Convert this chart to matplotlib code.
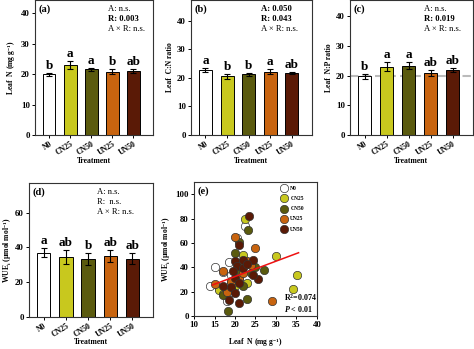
import matplotlib
matplotlib.use("Agg")
import matplotlib.pyplot as plt
import numpy as np

plt.rcParams['font.family'] = ['Liberation Serif', 'DejaVu Serif']
plt.rcParams['font.weight'] = 'bold'
plt.rcParams['mathtext.fontset'] = 'custom'
plt.rcParams['mathtext.rm'] = 'Liberation Serif:bold'
plt.rcParams['mathtext.it'] = 'Liberation Serif:italic:bold'
plt.rcParams['mathtext.bf'] = 'Liberation Serif:bold'

treatments = ['N0', 'CN25', 'CN50', 'UN25', 'UN50']
colors = ['#ffffff', '#c8c81e', '#5a5a0e', '#c8640f', '#5a1a06']

leafN = [20.0, 23.0, 21.5, 20.8, 21.1]
leafN_err = [0.5, 1.3, 0.5, 0.8, 0.6]
leafN_let = ['b', 'a', 'a', 'b', 'ab']

cn = [22.7, 20.5, 21.2, 22.2, 21.7]
cn_err = [0.6, 1.0, 0.6, 0.9, 0.5]
cn_let = ['a', 'b', 'b', 'a', 'ab']

np_ratio = [19.7, 23.0, 23.3, 21.0, 21.9]
np_err = [0.9, 1.5, 1.2, 1.0, 0.8]
np_let = ['b', 'a', 'a', 'ab', 'ab']

wue = [37.0, 34.5, 33.3, 35.0, 33.5]
wue_err = [2.5, 3.8, 3.3, 3.5, 3.0]
wue_let = ['a', 'ab', 'b', 'ab', 'ab']

stats_a = [('A: n.s.', 'normal'), ('R: 0.003', 'bold'), ('A × R: n.s.', 'normal')]
stats_b = [('A: 0.050', 'bold'), ('R: 0.043', 'bold'), ('A × R: n.s.', 'normal')]
stats_c = [('A: n.s.', 'normal'), ('R: 0.019', 'bold'), ('A × R: n.s.', 'normal')]
stats_d = [('A: n.s.', 'normal'), ('R:  n.s.', 'normal'), ('A × R: n.s.', 'normal')]

# scatter (leaf N, WUEi) per treatment
sc_N0_x = [14.0, 15.0, 18.5, 22.5, 20.5, 18.0, 21.0, 17.0, 19.0, 22.0, 16.0, 19.0]
sc_N0_y = [25.0, 40.5, 44.0, 74.0, 64.0, 12.0, 31.0, 36.0, 34.0, 45.0, 22.0, 20.0]
sc_CN25_x = [22.5, 30.0, 35.2, 34.2, 16.0, 22.0, 23.0, 17.0, 21.0, 19.0, 20.0]
sc_CN25_y = [80.0, 49.0, 34.0, 22.0, 21.0, 50.0, 27.0, 18.0, 42.0, 29.0, 25.0]
sc_CN50_x = [23.2, 21.0, 18.2, 23.0, 27.0, 20.0, 22.0, 17.0, 24.0, 19.0, 21.0, 25.0]
sc_CN50_y = [71.0, 61.0, 4.0, 14.0, 38.0, 52.0, 25.0, 17.0, 35.0, 22.0, 38.0, 40.0]
sc_UN25_x = [20.0, 25.0, 29.0, 17.0, 15.0, 23.0, 21.0, 19.0, 24.0, 18.0, 22.0]
sc_UN25_y = [65.0, 55.5, 12.0, 37.0, 26.0, 45.0, 30.0, 28.0, 42.0, 20.0, 35.0]
sc_UN50_x = [23.5, 21.0, 20.0, 22.0, 24.5, 20.5, 25.5, 24.5, 22.0, 20.0, 19.0, 20.0, 18.5, 21.0, 17.0, 21.0, 23.0, 19.5]
sc_UN50_y = [82.0, 58.0, 45.0, 46.0, 46.0, 41.0, 30.0, 34.0, 39.0, 31.0, 24.0, 19.0, 13.0, 11.0, 25.0, 27.0, 43.0, 37.0]
scatter_x = [sc_N0_x, sc_CN25_x, sc_CN50_x, sc_UN25_x, sc_UN50_x]
scatter_y = [sc_N0_y, sc_CN25_y, sc_CN50_y, sc_UN25_y, sc_UN50_y]

fit_range = [14.5, 35.5]
fit_slope = 1.26
fit_intercept = 7.2

W, H = 474, 349
fig = plt.figure(figsize=(W / 100, H / 100), dpi=100)

def ax_at(l, r, t, b):
    return fig.add_axes([l / W, 1 - b / H, (r - l) / W, (b - t) / H])

def style(ax, xsize=6.3):
    for s in ax.spines.values():
        s.set_color('#333333')
        s.set_linewidth(0.8)
    ax.tick_params(direction='out', length=2.5, width=0.7, labelsize=6.3, pad=1.2)
    ax.tick_params(axis='x', labelsize=xsize)
    for lab in ax.get_xticklabels() + ax.get_yticklabels():
        lab.set_fontweight('bold')

def bar_panel(ax, vals, errs, lets, ylim, yticks, ylabel, tag, stats, stat_x, letter_gap, xlab_y):
    x = np.arange(len(treatments))
    ax.bar(x, vals, width=0.6, color=colors, edgecolor='black', linewidth=0.7, zorder=2)
    ax.errorbar(x, vals, yerr=errs, fmt='none', ecolor='black', elinewidth=0.8,
                capsize=2, capthick=0.8, zorder=3)
    for xi, v, e, l in zip(x, vals, errs, lets):
        ax.text(xi, v + e + letter_gap, l, ha='center', va='bottom', fontsize=9.5, fontweight='bold')
    ax.set_xlim(-0.67, 4.93)
    ax.set_ylim(*ylim)
    ax.set_yticks(yticks)
    ax.set_xticks(x)
    ax.set_xticklabels(treatments, rotation=32, ha='right', rotation_mode='anchor')
    ax.set_xlabel('Treatment', fontsize=5.5, fontweight='bold', va='center')
    ax.xaxis.set_label_coords(0.5, xlab_y)
    ax.set_ylabel(ylabel, fontsize=5.5, fontweight='bold', labelpad=2)
    ax.text(0.03, 0.965, tag, transform=ax.transAxes, ha='left', va='top', fontsize=7.5, fontweight='bold')
    for i, (s, w) in enumerate(stats):
        ax.text(stat_x, 0.965 - i * 0.074, s, transform=ax.transAxes, ha='left', va='top',
                fontsize=6.2, fontweight=w)
    style(ax, xsize=5.6)

axa = ax_at(35, 153, 0, 135)
bar_panel(axa, leafN, leafN_err, leafN_let, (0, 44.3), [0, 10, 20, 30, 40],
          'Leaf  N (mg g$^{-1}$)', '(a)', stats_a, 0.62, 0.3, -0.19)

axb = ax_at(191, 312, 0, 135)
bar_panel(axb, cn, cn_err, cn_let, (0, 47.2), [0, 10, 20, 30, 40],
          'Leaf  C:N ratio', '(b)', stats_b, 0.58, 0.3, -0.19)

axc = ax_at(350, 473, 0, 135)
axc.axhline(20, color='#bbbbbb', linestyle=(0, (4, 2)), linewidth=1.5, zorder=1)
bar_panel(axc, np_ratio, np_err, np_let, (0, 45.4), [0, 10, 20, 30, 40],
          'Leaf  N:P ratio', '(c)', stats_c, 0.6, 0.3, -0.19)

axd = ax_at(29, 153, 183, 317)
bar_panel(axd, wue, wue_err, wue_let, (0, 77), [0, 20, 40, 60],
          'WUE$_\\mathrm{i}$ (μmol mol$^{-1}$)', '(d)', stats_d, 0.55, 0.6, -0.19)
axd.yaxis.labelpad = 1

axe = ax_at(194, 317, 182, 316)
for xs, ys, c, t in zip(scatter_x, scatter_y, colors, treatments):
    axe.scatter(xs, ys, s=36, c=c, edgecolors='#333333', linewidths=0.5, label=t, zorder=2)
fx = np.array(fit_range)
axe.plot(fx, fit_slope * fx + fit_intercept, color='#ee1111', linewidth=1.1, zorder=3)
axe.set_xlim(10, 40)
axe.set_ylim(0, 110)
axe.set_xticks([10, 15, 20, 25, 30, 35, 40])
axe.set_yticks([0, 20, 40, 60, 80, 100])
axe.set_xlabel('Leaf  N (mg g$^{-1}$)', fontsize=5.5, fontweight='bold', va='center')
axe.xaxis.set_label_coords(0.5, -0.195)
axe.set_ylabel('WUE$_\\mathrm{i}$ (μmol mol$^{-1}$)', fontsize=5.5, fontweight='bold', labelpad=2)
axe.text(0.03, 0.965, '(e)', transform=axe.transAxes, ha='left', va='top', fontsize=7.5, fontweight='bold')
axe.text(0.73, 0.135, 'R$^2$=0.074', transform=axe.transAxes, ha='left', va='center', fontsize=5.8, fontweight='bold')
axe.text(0.73, 0.055, '$P$ < 0.01', transform=axe.transAxes, ha='left', va='center', fontsize=5.8, fontweight='bold')
leg = axe.legend(loc='upper left', frameon=False, fontsize=4.0, handletextpad=0.1,
                 labelspacing=0.95, borderaxespad=0.0, markerscale=1.0,
                 bbox_to_anchor=(0.67, 0.99))
for t in leg.get_texts():
    t.set_fontweight('bold')
style(axe)

fig.savefig('out.png', dpi=100)
